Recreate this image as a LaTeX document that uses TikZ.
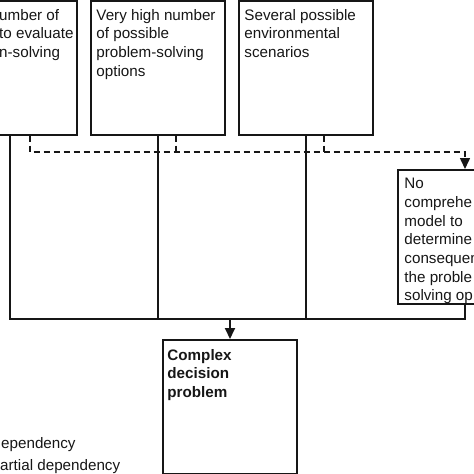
\documentclass[tikz,border=0pt]{standalone}
\usepackage{fontspec}
\setmainfont{Liberation Sans}
\usepackage{xcolor}
\usepackage{tikz}
\usetikzlibrary{arrows.meta,positioning,calc}

\definecolor{ink}{HTML}{161616}

\begin{document}
\begin{tikzpicture}[
x=1pt, y=-1pt,
box/.style={draw=ink, line width=1.5pt, minimum width=134pt, minimum height=134pt, inner sep=0pt},
txt/.style={anchor=north west, inner sep=0pt, align=left, text=ink, font=\fontsize{15.2}{18.7}\selectfont},
dep/.style={draw=ink, line width=1.8pt},
pdep/.style={draw=ink, line width=1.5pt, dash pattern=on 6pt off 4pt},
arr/.style={-{Triangle[width=10pt,length=11pt]}}
]
\path[use as bounding box, clip] (0,0) rectangle (474,474);

\node[box, anchor=north] (crit) at (10,0) {};
\node[box, right=12.5pt of crit] (opts) {};
\node[box, right=12.5pt of opts] (env) {};
\node[box, anchor=north] (model) at (465,169) {};
\node[box, anchor=north] (cdp) at (230,339) {};

\node[txt] (critT) at (-1,9) {umber of\\to evaluate\\n-solving};
\node[txt] (optsT) at ([shift={(6,9)}]opts.north west) {Very high number\\of possible\\problem-solving\\options};
\node[txt] (envT) at ([shift={(6,9)}]env.north west) {Several possible\\environmental\\scenarios};
\node[txt] (modelT) at ([shift={(7,9)}]model.north west) {No\\comprehe\\model to\\determine\\consequen\\the proble\\solving op};
\node[txt, font=\bfseries\fontsize{15.2}{18.7}\selectfont] (cdpT) at ([shift={(5,10)}]cdp.north west) {Complex\\decision\\problem};

% legend (cut off on the left)
\node[txt] (depT) at (1,437) {ependency};
\node[txt] (pdepT) at (0,459) {artial dependency};

\coordinate (bus) at (0,319);
\coordinate (dbus) at (0,152);

% dependencies
\draw[dep] (crit.south) |- (model.south |- bus) -- (model.south);
\draw[dep] (opts.south) -- (opts.south |- bus);
\draw[dep] (env.south) -- (env.south |- bus);
\draw[dep, arr] (cdp.north |- bus) -- (cdp.north);

% partial dependencies
\draw[pdep, arr] ([xshift=20pt]crit.south) |- (model.north |- dbus) -- (model.north);
\draw[pdep] ([xshift=18pt]opts.south) -- ([xshift=18pt]opts.south |- dbus);
\draw[pdep] ([xshift=18pt]env.south) -- ([xshift=18pt]env.south |- dbus);
\end{tikzpicture}
\end{document}
